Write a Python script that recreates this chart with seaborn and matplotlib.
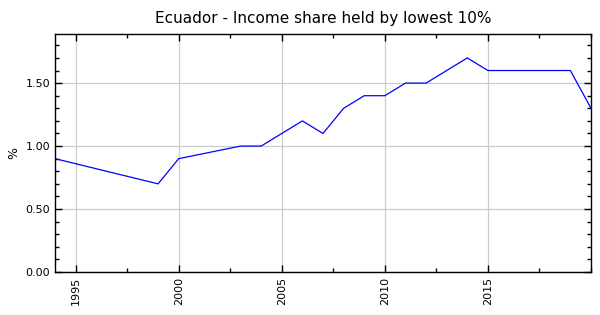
import matplotlib
matplotlib.use("Agg")
import matplotlib.pyplot as plt
import seaborn as sns
import pandas as pd
from matplotlib.ticker import MultipleLocator, FixedLocator, FormatStrFormatter

years = [1994, 1999, 2000, 2003, 2004, 2006, 2007, 2008, 2009, 2010, 2011, 2012,
         2014, 2015, 2016, 2017, 2018, 2019, 2020]
values = [0.9, 0.7, 0.9, 1.0, 1.0, 1.2, 1.1, 1.3, 1.4, 1.4, 1.5, 1.5,
          1.7, 1.6, 1.6, 1.6, 1.6, 1.6, 1.3]
x_ticks = [1995, 2000, 2005, 2010, 2015]
title = "Ecuador - Income share held by lowest 10%"
ylabel = "%"

df = pd.DataFrame({"year": years, "value": values})

sns.set_style("white")
plt.rcParams['font.family'] = ['DejaVu Sans']
plt.rcParams['text.color'] = 'black'
plt.rcParams['axes.labelcolor'] = 'black'
plt.rcParams['xtick.color'] = 'black'
plt.rcParams['ytick.color'] = 'black'

fig = plt.figure(figsize=(6, 3.15), dpi=100)
ax = fig.add_axes([55/600, 1 - 272/315, (591-55)/600, (272-34)/315])
sns.lineplot(data=df, x="year", y="value", ax=ax, color="#0000ff", linewidth=0.9)

ax.set_xlim(1994, 2020)
ax.set_ylim(0, 1.89)
ax.xaxis.set_major_locator(FixedLocator(x_ticks))
ax.xaxis.set_minor_locator(MultipleLocator(2.5))
ax.yaxis.set_major_locator(MultipleLocator(0.5))
ax.yaxis.set_minor_locator(MultipleLocator(0.1))
ax.yaxis.set_major_formatter(FormatStrFormatter("%.2f"))
ax.grid(True, which="major", color="#cccccc", linewidth=0.9)
ax.set_axisbelow(True)
ax.tick_params(which="both", direction="in", top=True, right=True, bottom=True, left=True,
               color="black", labelsize=8)
ax.tick_params(which="major", length=5, width=1)
ax.tick_params(which="minor", length=3, width=1)
ax.tick_params(axis="x", labelrotation=90)
for s in ax.spines.values():
    s.set_color("black")
    s.set_linewidth(1)
ax.set_xlabel("")
ax.set_ylabel(ylabel, fontsize=9)
ax.set_title(title, fontsize=11, pad=8, color="black")

fig.savefig("out.png", dpi=100)
